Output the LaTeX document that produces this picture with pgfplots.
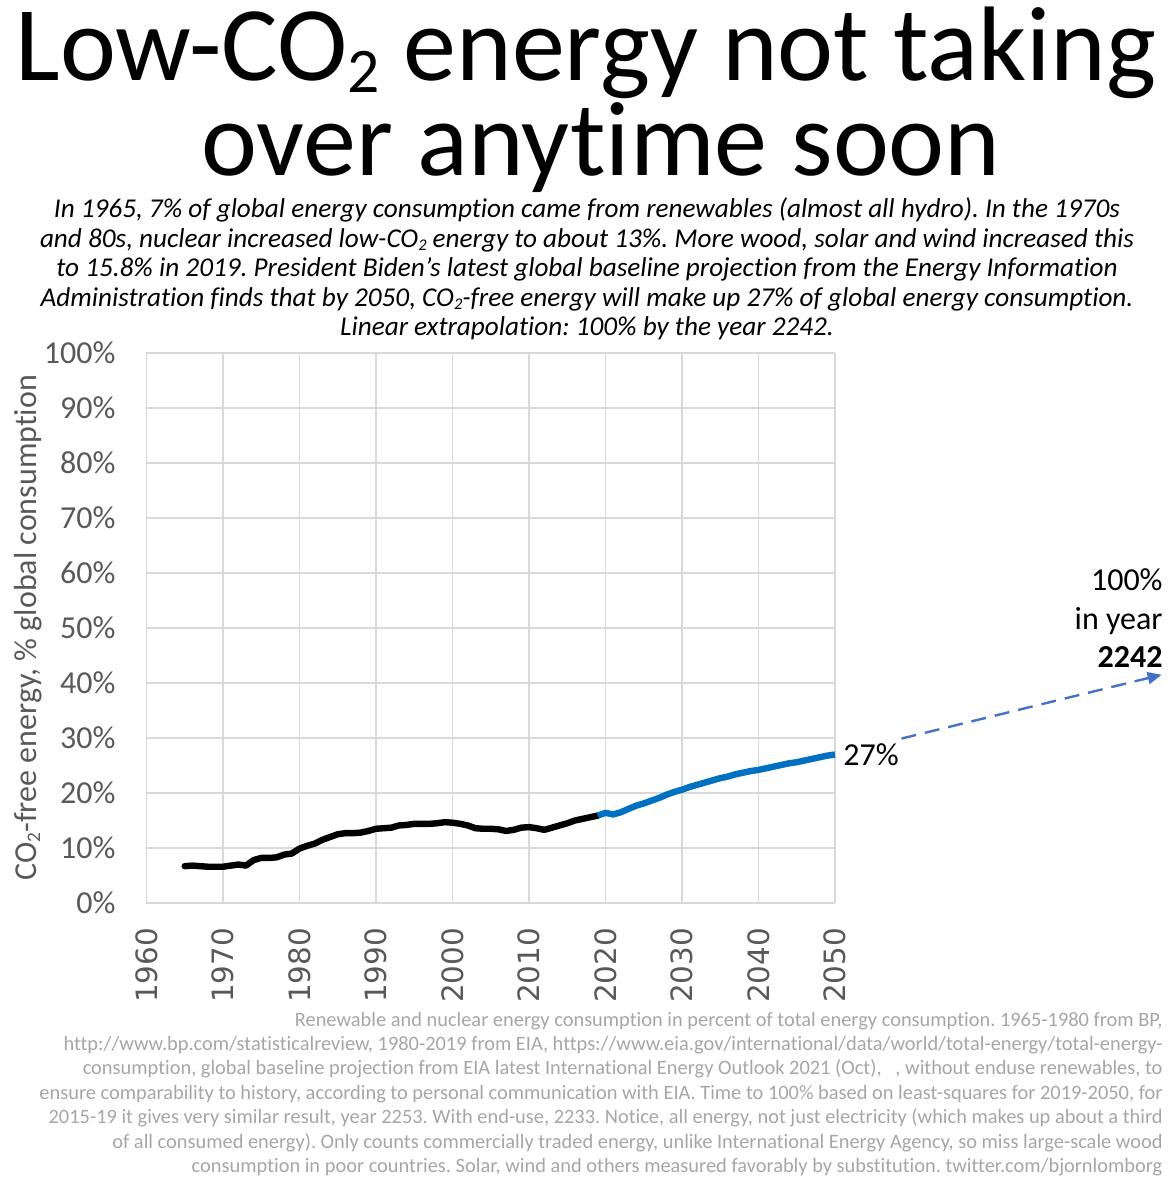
\documentclass[border=0pt]{standalone}
\usepackage{fontspec}
\setmainfont{Carlito}[Ligatures=CommonOff]
\newfontfamily\dejavu{DejaVu Sans}
\usepackage{graphicx}
\usepackage{pgfplots}
\pgfplotsset{compat=1.18}
\usetikzlibrary{arrows.meta}
\definecolor{tickgray}{HTML}{595959}
\definecolor{gridgray}{HTML}{D9D9D9}
\definecolor{notegray}{HTML}{A6A6A6}
\definecolor{projblue}{HTML}{0070C0}
\definecolor{dashblue}{HTML}{4472C4}
\newcommand{\subtwo}{\raisebox{-0.12em}{\scalebox{0.6}{2}}}
\frenchspacing

\begin{document}
\begin{tikzpicture}
\path[use as bounding box] (0,0) rectangle (587pt,-595.5pt);

% title (boxes cut at baseline / x-height so lines do not collide)
\node[anchor=base, inner sep=0, text depth=0pt, font=\fontsize{53}{53}\selectfont] at (293pt,-40pt) {Low-CO\subtwo{} energy not taking};
\node[anchor=base, inner sep=0, text depth=0pt, text height=26pt, font=\fontsize{53}{53}\selectfont] at (300.5pt,-87.5pt) {over anytime soon};

% subtitle
\begin{scope}[every node/.style={anchor=base, inner sep=0, font=\fontsize{13.6}{15}\selectfont\itshape}]
\node[text height=7pt] at (293.5pt,-108.75pt) {In 1965, 7\% of global energy consumption came from renewables (almost all hydro). In the 1970s};
\node at (293.5pt,-123.5pt) {and 80s, nuclear increased low-CO\subtwo{} energy to about 13\%. More wood, solar and wind increased this};
\node at (293.5pt,-138.25pt) {to 15.8\% in 2019. President Biden’s latest global baseline projection from the Energy Information};
\node at (293.5pt,-153pt) {Administration finds that by 2050, CO\subtwo-free energy will make up 27\% of global energy consumption.};
\node at (293.5pt,-167.75pt) {Linear extrapolation: 100\% by the year 2242.};
\end{scope}

% footnote
\begin{scope}[every node/.style={anchor=base east, inner sep=0, text=notegray, font=\fontsize{10.2}{12}\selectfont}]
\node at (581.5pt,-513pt) {Renewable and nuclear energy consumption in percent of total energy consumption. 1965-1980 from BP,};
\node at (581.5pt,-525.2pt) {http://www.bp.com/statisticalreview, 1980-2019 from EIA, https://www.eia.gov/international/data/world/total-energy/total-energy-};
\node at (581.5pt,-537.4pt) {consumption, global baseline projection from EIA latest International Energy Outlook 2021 (Oct),\ \ \ , without enduse renewables, to};
\node at (581.5pt,-549.6pt) {ensure comparability to history, according to personal communication with EIA. Time to 100\% based on least-squares for 2019-2050, for};
\node at (581.5pt,-561.8pt) {2015-19 it gives very similar result, year 2253. With end-use, 2233. Notice, all energy, not just electricity (which makes up about a third};
\node at (581.5pt,-574pt) {of all consumed energy). Only counts commercially traded energy, unlike International Energy Agency, so miss large-scale wood};
\node at (581.5pt,-586.2pt) {consumption in poor countries. Solar, wind and others measured favorably by substitution. twitter.com/bjornlomborg};
\end{scope}

% y label
\node[rotate=90, anchor=center, inner sep=0, text=tickgray, font=\fontsize{16}{18}\selectfont] at (14pt,-313.75pt) {CO\subtwo-free energy, \% global consumption};

% annotations
\node[anchor=west, inner sep=0, font=\fontsize{16}{19}\selectfont] at (421.5pt,-377.5pt) {27\%};
\begin{scope}[every node/.style={anchor=base east, inner sep=0, font=\fontsize{16}{19}\selectfont}]
\node at (581.5pt,-295pt) {100\%};
\node at (581.5pt,-314.5pt) {in year};
\node at (581.5pt,-333.5pt) {\bfseries 2242};
\end{scope}

\begin{axis}[
  at={(73.25pt,-451.5pt)}, anchor=south west,
  scale only axis, width=344.25pt, height=275pt,
  xmin=1960, xmax=2050, ymin=0, ymax=100,
  xtick={1960,1970,...,2050}, ytick={0,10,...,100},
  grid=major, major grid style={gridgray, line width=0.8pt},
  axis line style={gridgray, line width=0.8pt},
  axis x line*=bottom, axis y line*=left,
  major tick length=0pt,
  /pgf/number format/assume math mode=true,
  /pgf/number format/1000 sep={},
  yticklabel={\pgfmathprintnumber{\tick}\%},
  yticklabel style={anchor=east, xshift=-12pt, text=tickgray, font=\fontsize{16}{19}\selectfont},
  xticklabel style={yshift=-9pt, rotate=90, anchor=east, text=tickgray, font=\dejavu\fontsize{14.7}{17}\selectfont},
  clip=false,
]
\addplot[black, line width=3.2pt, line join=round, line cap=round] coordinates {
(1965,6.7) (1966,6.8) (1967,6.7) (1968,6.6) (1969,6.6) (1970,6.6) (1971,6.8) (1972,7.0)
(1973,6.8) (1974,7.8) (1975,8.2) (1976,8.2) (1977,8.3) (1978,8.8) (1979,9.0) (1980,9.9)
(1981,10.4) (1982,10.8) (1983,11.5) (1984,12.0) (1985,12.5) (1986,12.7) (1987,12.7) (1988,12.8)
(1989,13.1) (1990,13.5) (1991,13.6) (1992,13.7) (1993,14.1) (1994,14.2) (1995,14.4) (1996,14.4)
(1997,14.4) (1998,14.5) (1999,14.7) (2000,14.6) (2001,14.4) (2002,14.1) (2003,13.6) (2004,13.5)
(2005,13.5) (2006,13.4) (2007,13.1) (2008,13.3) (2009,13.7) (2010,13.8) (2011,13.6) (2012,13.3)
(2013,13.7) (2014,14.1) (2015,14.5) (2016,15.0) (2017,15.3) (2018,15.6) (2019,15.9)
};
\addplot[projblue, line width=3.2pt, line join=round] coordinates {
(2019,15.9) (2020,16.4) (2021,16.1) (2022,16.5) (2023,17.1) (2024,17.7) (2025,18.1) (2026,18.6)
(2027,19.1) (2028,19.7) (2029,20.2) (2030,20.6) (2031,21.1) (2032,21.5) (2033,21.9) (2034,22.3)
(2035,22.7) (2036,23.0) (2037,23.4) (2038,23.7) (2039,24.0) (2040,24.2) (2041,24.5) (2042,24.8)
(2043,25.1) (2044,25.4) (2045,25.6) (2046,25.9) (2047,26.2) (2048,26.5) (2049,26.8) (2050,27.0)
};
\addplot[dashblue, line width=1.2pt, dash pattern=on 7.5pt off 4.5pt, -{Triangle[length=7pt,width=6pt]}] coordinates {
(2058.7,29.9) (2092.7,41.5)
};
\end{axis}
\end{tikzpicture}
\end{document}
